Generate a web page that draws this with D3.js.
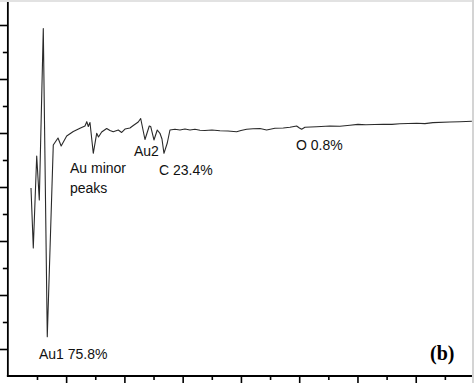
<!DOCTYPE html>
<html>
<head>
<meta charset="utf-8">
<script src="https://cdn.jsdelivr.net/npm/d3@7"></script>
<style>
  body { margin: 0; background: #fff; }
  svg { display: block; }
</style>
</head>
<body>
<svg id="chart"></svg>
<script>
// spectrum trace (arbitrary units)
const energy = [0.794, 0.873, 0.990, 1.079, 1.216, 1.353, 1.559, 1.721, 1.830, 2.019,
  2.246, 2.476, 2.647, 2.709, 2.761, 2.819, 2.932, 3.049, 3.111, 3.220,
  3.392, 3.505, 3.618, 3.790, 3.907, 4.020, 4.191, 4.305, 4.476, 4.559,
  4.706, 4.854, 4.902, 5.015, 5.128, 5.221, 5.290, 5.358, 5.472, 5.564,
  5.736, 5.907, 6.079, 6.251, 6.422, 6.594, 6.765, 7.006, 7.280, 7.555,
  7.853, 8.001, 8.196, 8.413, 8.653, 8.883, 9.167, 9.452, 9.682, 9.912,
  10.008, 10.084, 10.197, 10.598, 11.055, 11.398, 11.741, 12.016, 12.290, 12.884,
  13.182, 13.457, 14.030, 14.315, 14.590, 15.173, 15.516, 15.928];
const intensity = [6.963, 4.741, 8.148, 6.519, 12.870, 1.456, 8.556, 8.815, 8.519, 8.889,
  9.056, 9.174, 9.259, 9.419, 9.241, 9.389, 8.248, 8.989, 8.852, 9.037,
  9.167, 9.093, 9.048, 9.111, 9.019, 9.148, 9.185, 9.278, 9.407, 9.537,
  8.759, 9.259, 9.241, 8.741, 9.111, 8.989, 8.778, 8.248, 8.630, 9.111,
  9.137, 9.111, 9.148, 9.111, 9.137, 9.100, 9.093, 9.111, 9.085, 9.074,
  9.048, 9.093, 9.137, 9.156, 9.167, 9.111, 9.174, 9.185, 9.211, 9.259,
  9.185, 9.137, 9.211, 9.233, 9.259, 9.248, 9.285, 9.319, 9.304, 9.322,
  9.319, 9.341, 9.359, 9.348, 9.385, 9.407, 9.415, 9.433];

const labels = ["Au minor", "peaks", "Au2", "C 23.4%", "O 0.8%", "Au1 75.8%"];
const labelPos = [[70, 173], [70, 193], [134, 156], [159, 175], [296, 150], [39, 359]];

const W = 474, H = 383;
const svg = d3.select("#chart").attr("width", W).attr("height", H);

const x = d3.scaleLinear().domain([0, 16]).range([7.86, 474]);
const y = d3.scaleLinear().domain([0, 14]).range([376, -2]);

// crop edges of the source figure
svg.append("rect").attr("x", 0).attr("y", 0).attr("width", W).attr("height", 2).attr("fill", "#e2e2e2");
svg.append("rect").attr("x", 472).attr("y", 0).attr("width", 2).attr("height", H).attr("fill", "#d4d4d4");

const data = energy.map((e, i) => [e, intensity[i]]);

svg.append("path")
    .datum(data)
    .attr("fill", "none")
    .attr("stroke", "#2a2a2a")
    .attr("stroke-width", 1.1)
    .attr("stroke-linejoin", "round")
    .attr("d", d3.line().x(d => x(d[0])).y(d => y(d[1])));

// axes
const yMajor = d3.range(1, 14, 2), yMinor = d3.range(2, 14, 2);
const xMajor = d3.range(2, 16, 2), xMinor = d3.range(1, 16, 2);

function axisStyle(g) {
  g.select(".domain").remove();
  g.selectAll("text").remove();
  g.selectAll("line").attr("stroke", "#000").attr("stroke-width", 1.6);
}

svg.append("g").attr("transform", `translate(${x(0)},0)`)
    .call(d3.axisLeft(y).tickValues(yMajor).tickSize(8)).call(axisStyle);
svg.append("g").attr("transform", `translate(${x(0)},0)`)
    .call(d3.axisLeft(y).tickValues(yMinor).tickSize(5)).call(axisStyle);
svg.append("g").attr("transform", `translate(0,${y(0)})`)
    .call(d3.axisBottom(x).tickValues(xMajor).tickSize(8)).call(axisStyle);
svg.append("g").attr("transform", `translate(0,${y(0)})`)
    .call(d3.axisBottom(x).tickValues(xMinor).tickSize(4)).call(axisStyle);

svg.append("line").attr("x1", x(0)).attr("x2", x(0)).attr("y1", 2).attr("y2", y(0))
    .attr("stroke", "#000").attr("stroke-width", 1.8);
svg.append("line").attr("x1", x(0) - 1).attr("x2", 472).attr("y1", y(0)).attr("y2", y(0))
    .attr("stroke", "#000").attr("stroke-width", 1.8);

svg.selectAll("text.lab")
  .data(labels)
  .enter().append("text")
    .attr("class", "lab")
    .attr("x", (d, i) => labelPos[i][0])
    .attr("y", (d, i) => labelPos[i][1])
    .attr("font-family", "Liberation Sans, Arial, sans-serif")
    .attr("font-size", 14)
    .attr("fill", "#111")
    .text(d => d);

svg.append("text")
    .attr("x", 430).attr("y", 360)
    .attr("font-family", "Liberation Serif, Times New Roman, serif")
    .attr("font-weight", "bold")
    .attr("font-size", 20)
    .text("(b)");
</script>
</body>
</html>
